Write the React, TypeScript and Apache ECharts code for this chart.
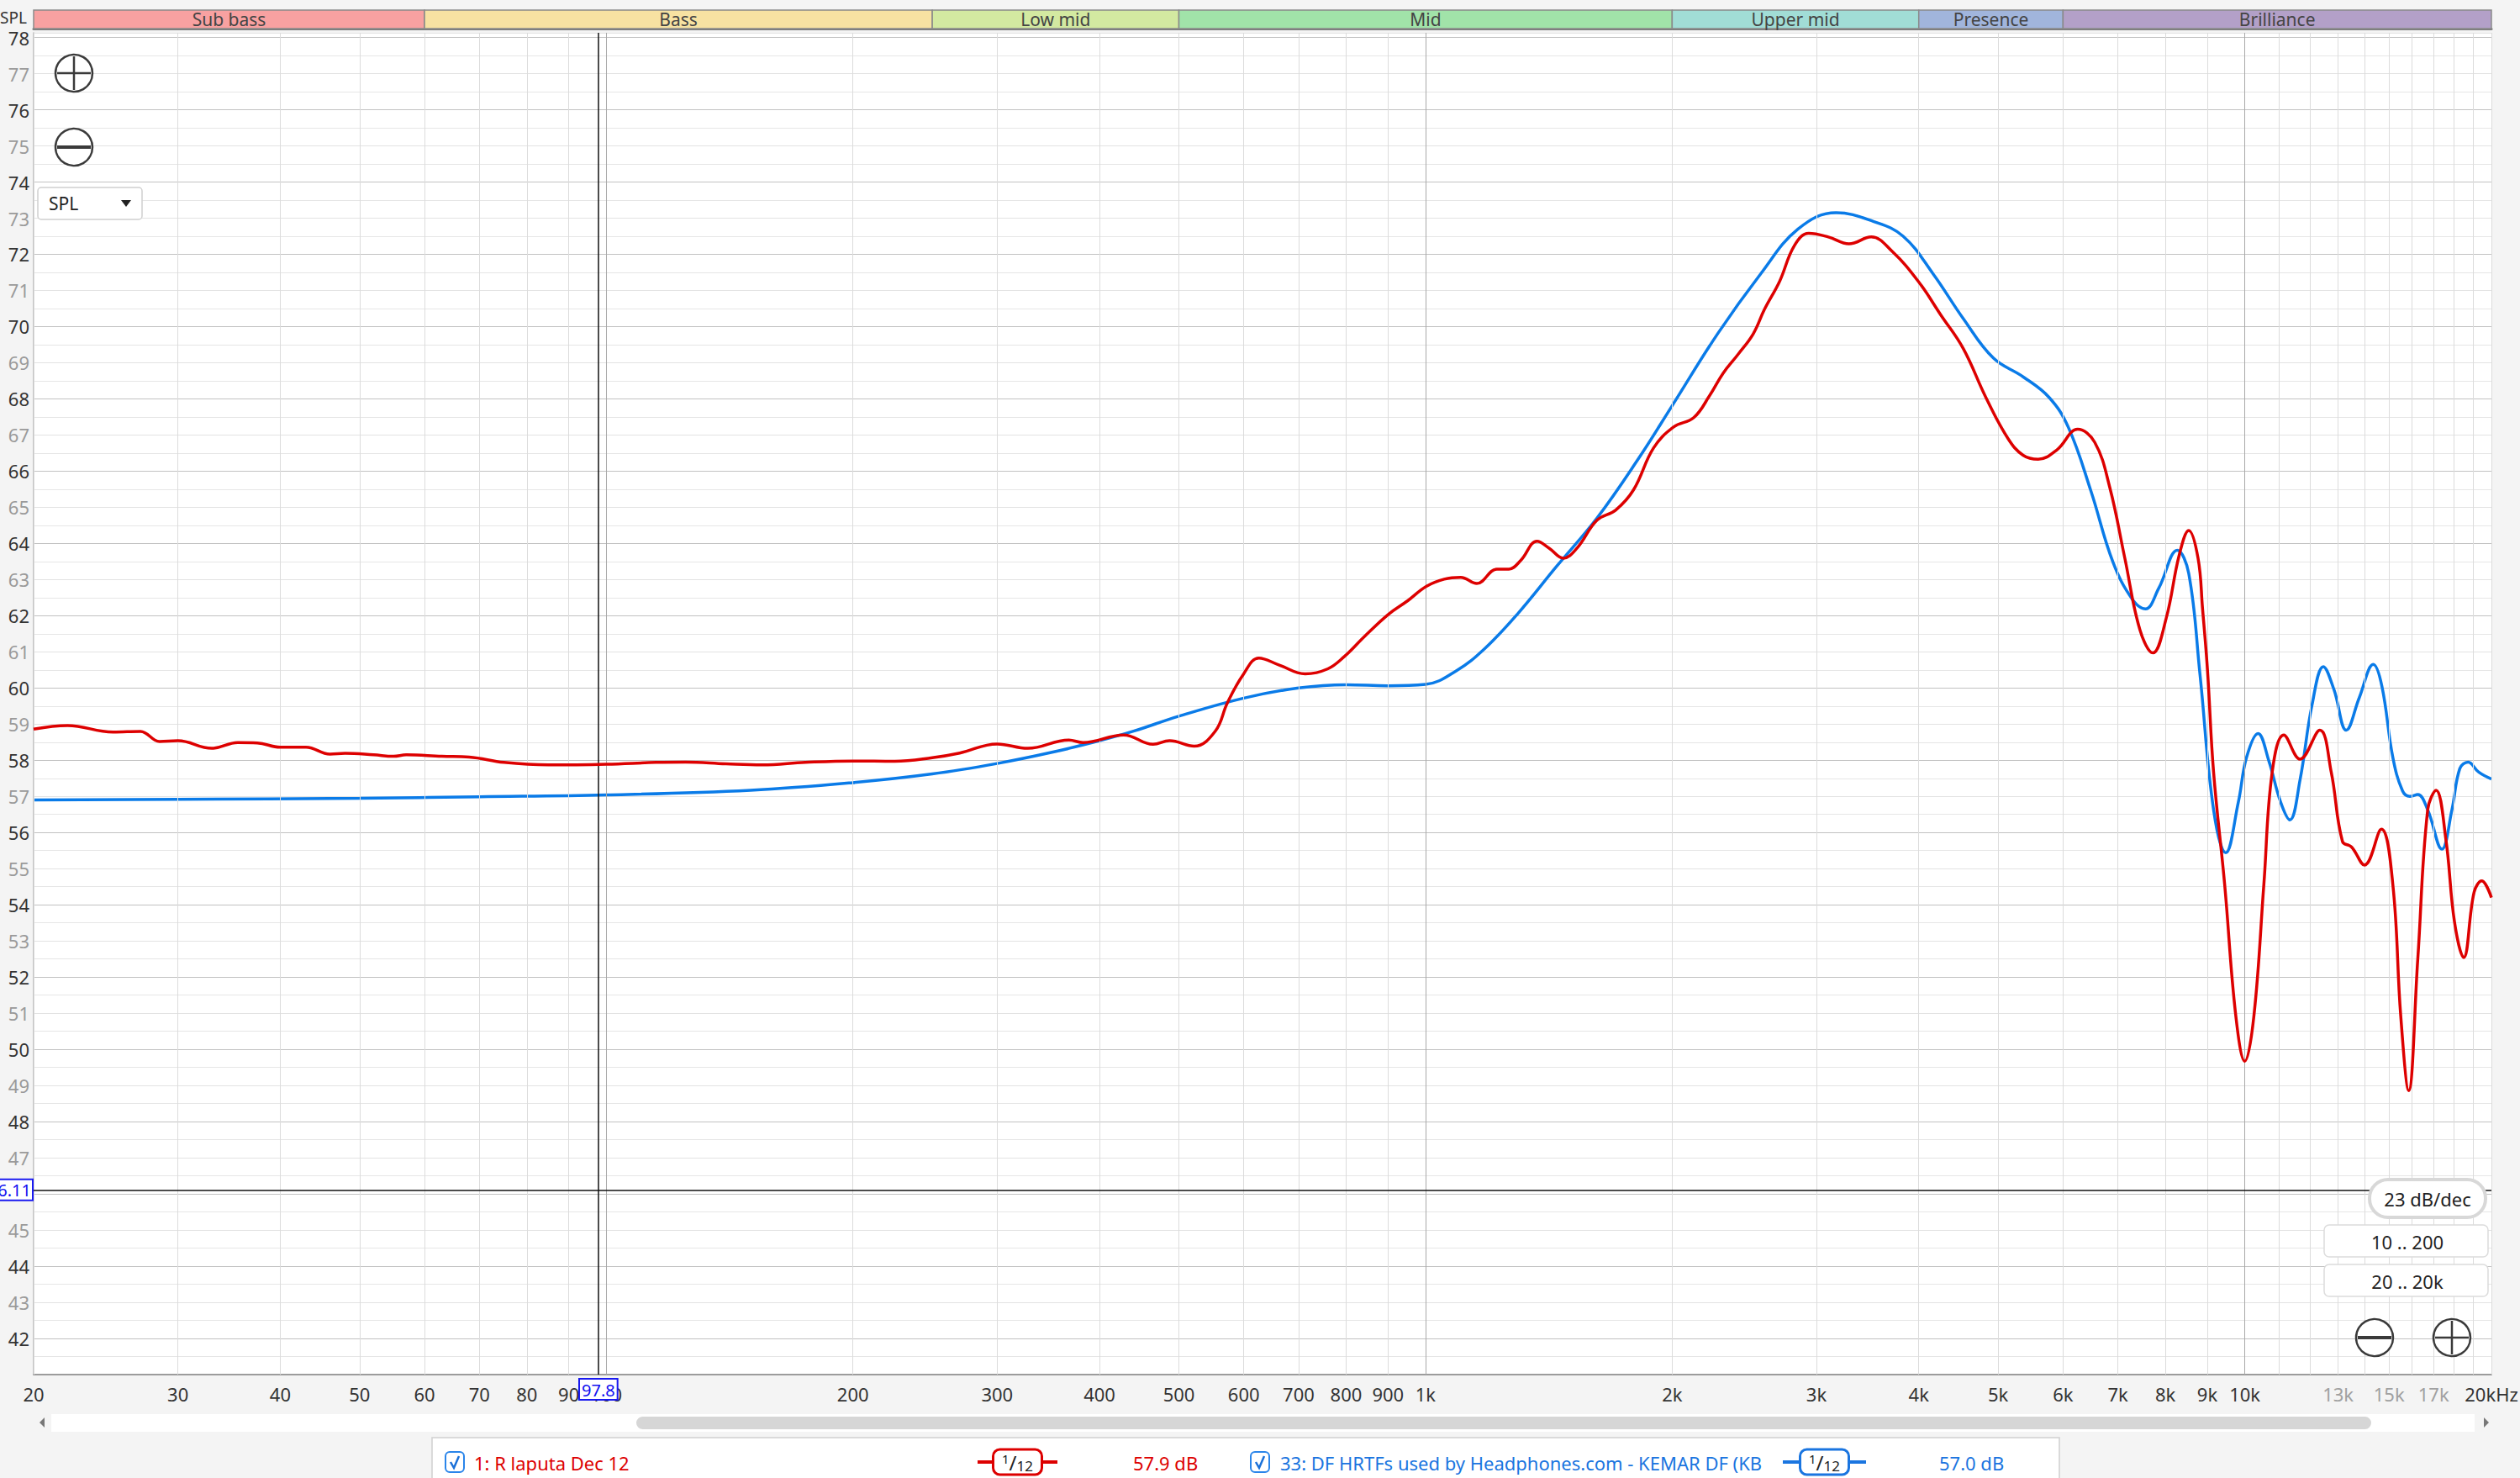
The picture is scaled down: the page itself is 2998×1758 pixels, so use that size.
import React, { useEffect, useRef } from "react";
import * as echarts from "echarts";

// ---------------- DATA ----------------
const redCurve: [number, number][] = [
  [20, 58.86], [22, 58.96], [25, 58.78], [27, 58.8], [28.5, 58.52], [30, 58.54], [33, 58.33], [35.5, 58.49],
  [37.5, 58.48], [40, 58.36], [43, 58.36], [46, 58.17], [48, 58.19], [52, 58.15], [55, 58.11], [57, 58.15],
  [63, 58.11], [68, 58.09], [75, 57.94], [85, 57.87], [100, 57.89], [115, 57.94], [125, 57.95], [140, 57.9],
  [155, 57.87], [175, 57.94], [200, 57.98], [225, 57.97], [250, 58.07], [270, 58.2], [300, 58.45], [327, 58.33],
  [367, 58.56], [382, 58.49], [428, 58.7], [465, 58.44], [487, 58.54], [522, 58.39], [554, 58.81], [573, 59.59],
  [599, 60.37], [626, 60.83], [662, 60.64], [713, 60.39], [760, 60.53], [796, 60.87], [842, 61.42], [900, 62.03],
  [952, 62.42], [1002, 62.81], [1054, 63.01], [1104, 63.06], [1155, 62.89], [1222, 63.29], [1264, 63.29],
  [1307, 63.53], [1368, 64.06], [1415, 63.87], [1473, 63.59], [1531, 63.87], [1619, 64.64], [1706, 64.92],
  [1794, 65.48], [1898, 66.64], [2008, 67.22], [2125, 67.48], [2222, 68.09], [2308, 68.71], [2407, 69.23],
  [2512, 69.8], [2593, 70.48], [2705, 71.25], [2820, 72.24], [2936, 72.58], [3102, 72.48], [3287, 72.29],
  [3500, 72.48], [3712, 72.08], [3995, 71.25], [4256, 70.32], [4533, 69.39], [4830, 68.04], [5141, 66.9],
  [5363, 66.44], [5595, 66.33], [5898, 66.59], [6252, 67.16], [6558, 66.8], [6842, 65.55], [7138, 63.59],
  [7445, 61.62], [7724, 60.97], [8018, 61.93], [8319, 63.69], [8542, 64.36], [8769, 63.59], [8880, 62.2],
  [9004, 60.5], [9160, 57.67], [9450, 54.56], [9750, 50.93], [10000, 49.67], [10260, 50.93], [10550, 54.56],
  [10800, 57.67], [11160, 58.7], [11680, 58.03], [12350, 58.83], [12750, 57.67], [13160, 55.75], [13500, 55.6],
  [14000, 55.1], [14680, 56.09], [15160, 54.56], [15500, 50.93], [15850, 48.86], [16260, 52.49], [16720, 56.63],
  [17120, 57.17], [17600, 55.8], [18030, 53.52], [18500, 52.54], [19050, 54.35], [19460, 54.66], [20000, 54.2],
];

const blueCurve: [number, number][] = [
  [20, 56.9], [30, 56.92], [50, 56.95], [70, 56.99], [100, 57.04], [150, 57.17], [200, 57.38], [250, 57.62],
  [300, 57.91], [350, 58.22], [400, 58.54], [441, 58.81], [500, 59.22], [600, 59.72], [700, 60.0], [800, 60.09],
  [900, 60.06], [1000, 60.1], [1091, 60.48], [1181, 61.09], [1293, 62.03], [1446, 63.37], [1619, 64.7],
  [1815, 66.31], [2000, 67.81], [2274, 69.81], [2565, 71.46], [2849, 72.7], [3170, 73.15], [3520, 72.91],
  [3828, 72.5], [4164, 71.46], [4533, 70.22], [4932, 69.13], [5363, 68.61], [5770, 68.04], [6091, 67.21],
  [6489, 65.45], [6904, 63.48], [7292, 62.45], [7564, 62.19], [7852, 62.76], [8273, 63.81], [8542, 63.17],
  [8817, 60.37], [9160, 56.63], [9480, 55.44], [9820, 56.84], [10050, 58.08], [10380, 58.74], [10700, 57.98],
  [11060, 56.84], [11350, 56.35], [11680, 57.46], [12080, 59.53], [12470, 60.59], [12850, 59.95], [13300, 58.83],
  [13800, 59.74], [14350, 60.65], [14700, 60.05], [15160, 58.08], [15580, 57.15], [15900, 57.0], [16260, 57.05],
  [16720, 56.63], [17400, 55.54], [17900, 56.63], [18300, 57.77], [18730, 57.95], [19300, 57.67], [20000, 57.48],
];

const xGridFreqs = [
  20, 30, 40, 50, 60, 70, 80, 90, 100, 200, 300, 400, 500, 600, 700, 800, 900, 1000, 2000, 3000, 4000, 5000,
  6000, 7000, 8000, 9000, 10000, 11000, 12000, 13000, 14000, 15000, 16000, 17000, 18000, 19000, 20000,
];
const decadeFreqs = [100, 1000, 10000];
const xTickLabels: [number, string][] = [
  [20, "20"], [30, "30"], [40, "40"], [50, "50"], [60, "60"], [70, "70"], [80, "80"], [90, "90"], [100, "100"],
  [200, "200"], [300, "300"], [400, "400"], [500, "500"], [600, "600"], [700, "700"], [800, "800"], [900, "900"],
  [1000, "1k"], [2000, "2k"], [3000, "3k"], [4000, "4k"], [5000, "5k"], [6000, "6k"], [7000, "7k"], [8000, "8k"],
  [9000, "9k"], [10000, "10k"], [13000, "13k"], [15000, "15k"], [17000, "17k"], [20000, "20kHz"],
];
const faintTickLabels = ["13k", "15k", "17k"];

const yMin = 41;
const yMax = 78.13;

const bandNames = ["Sub bass", "Bass", "Low mid", "Mid", "Upper mid", "Presence", "Brilliance"];
const bandEdges = [20, 60, 250, 500, 2000, 4000, 6000, 20000];

const cursorFreq = 97.8;
const cursorDb = 46.11;

const legendName1 = "1: R laputa Dec 12";
const legendName2 = "33: DF HRTFs used by Headphones.com - KEMAR DF (KB";
const legendLevel1 = "57.9 dB";
const legendLevel2 = "57.0 dB";
const slopeLabel = "23 dB/dec";
const rangeLabels = ["10 .. 200", "20 .. 20k"];

// ---------------- STYLE ----------------
const FONT = "'Noto Sans', 'DejaVu Sans', sans-serif";
const BAND_COLORS = ["#f8a1a1", "#f7e2a2", "#d3e9a1", "#a1e3a9", "#a1ddd6", "#a1b5dc", "#b3a0c8"];
const RED = "#dd0000";
const BLUE = "#0a7be8";
const INK = "#3a3a3a";

function txt(x: number, y: number, text: string, fill: string, size = 22, align = "left") {
  return {
    type: "text",
    z: 100,
    x,
    y,
    style: {
      text,
      fill,
      font: `${size}px ${FONT}`,
      textAlign: align,
      textVerticalAlign: "middle",
      align,
      verticalAlign: "middle",
    },
  };
}
function circleBtn(cx: number, cy: number, plus: boolean) {
  const r = 22;
  const els: any[] = [
    { type: "circle", z: 100, shape: { cx, cy, r }, style: { fill: "#fff", stroke: INK, lineWidth: 2.5 } },
    { type: "line", z: 101, shape: { x1: cx - r + 2, y1: cy, x2: cx + r - 2, y2: cy }, style: { stroke: INK, lineWidth: plus ? 2.5 : 4 } },
  ];
  if (plus) {
    els.push({ type: "line", z: 101, shape: { x1: cx, y1: cy - r + 2, x2: cx, y2: cy + r - 2 }, style: { stroke: INK, lineWidth: 2.5 } });
  }
  return els;
}
function checkbox(x: number, y: number) {
  return [
    { type: "rect", z: 100, shape: { x, y, width: 22, height: 24, r: 5 }, style: { fill: "#fff", stroke: "#2a85ea", lineWidth: 2 } },
    { type: "polyline", z: 101, shape: { points: [[x + 6, y + 12], [x + 10, y + 19], [x + 16, y + 5]] }, style: { stroke: "#1a70d8", lineWidth: 2.5, fill: null } },
  ];
}
function badge(x1: number, x2: number, y: number, color: string) {
  const bx = (x1 + x2) / 2 - 29;
  return [
    { type: "line", z: 100, shape: { x1, y1: y, x2, y2: y }, style: { stroke: color, lineWidth: 4 } },
    { type: "rect", z: 101, shape: { x: bx, y: y - 15, width: 58, height: 30, r: 8 }, style: { fill: "#fff", stroke: color, lineWidth: 3 } },
    {
      type: "text",
      z: 102,
      x: bx + 29,
      y,
      style: {
        text: "{s|1}{m|/}{u|12}",
        rich: {
          s: { fontSize: 15, fontFamily: FONT, fill: "#222", padding: [0, 0, 9, 0] },
          m: { fontSize: 24, fontFamily: FONT, fill: "#222" },
          u: { fontSize: 17, fontFamily: FONT, fill: "#222", padding: [8, 0, 0, 0] },
        },
        textAlign: "center",
        textVerticalAlign: "middle",
        align: "center",
        verticalAlign: "middle",
      },
    },
  ];
}

export default function App() {
  const ref = useRef<HTMLDivElement>(null);

  useEffect(() => {
    if (!ref.current) return;
    const chart = echarts.init(ref.current, undefined, { renderer: "svg" });

    const labelFor = (f: number) => {
      const hit = xTickLabels.find((t) => t[0] === f);
      return hit ? hit[1] : null;
    };

    const gridLineData = xGridFreqs.map((f) => {
      const lab = labelFor(f);
      return {
        xAxis: f,
        lineStyle: { color: decadeFreqs.includes(f) ? "#a9a9a9" : "#dcdcdc", width: 1, type: "solid" },
        label: lab
          ? { show: true, formatter: lab, color: faintTickLabels.includes(lab) ? "#a0a0a0" : "#333" }
          : { show: false },
      };
    });

    const isInt = (v: number) => Math.abs(v - Math.round(v)) < 1e-6;
    const hiddenYLabel = Math.round(cursorDb);

    const cursorLabel = {
      show: true,
      position: "start",
      color: "#1010f0",
      fontSize: 20,
      fontFamily: FONT,
      backgroundColor: "#fff",
      borderColor: "#1a1af0",
      borderWidth: 2,
    };

    const option: any = {
      animation: false,
      backgroundColor: "#f4f4f4",
      textStyle: { fontFamily: FONT },
      grid: [
        { left: 40, top: 39, width: 2924, height: 1596, show: true, backgroundColor: "#ffffff", borderWidth: 0 },
        { left: 40, top: 12, width: 2924, height: 22, show: false },
      ],
      xAxis: [
        {
          type: "log",
          logBase: 10,
          min: 20,
          max: 20000,
          gridIndex: 0,
          axisLabel: { show: false },
          axisTick: { show: false },
          splitLine: { show: false },
          axisLine: { show: true, onZero: false, lineStyle: { color: "#9c9c9c", width: 2 } },
        },
        {
          type: "log",
          logBase: 10,
          min: 20,
          max: 20000,
          gridIndex: 1,
          axisLabel: { show: false },
          axisTick: { show: false },
          splitLine: { show: false },
          axisLine: { show: true, onZero: false, lineStyle: { color: "#7a7a7a", width: 3 } },
        },
      ],
      yAxis: [
        {
          type: "value",
          min: yMin,
          max: yMax,
          interval: 1,
          gridIndex: 0,
          axisLine: { show: true, lineStyle: { color: "#b4b4b4", width: 1.5 } },
          axisTick: { show: false },
          axisLabel: {
            margin: 5,
            formatter: (v: number) => {
              if (!isInt(v)) return "";
              const n = Math.round(v);
              if (n === yMin || n === hiddenYLabel) return "";
              return n % 2 === 0 ? `{d|${n}}` : `{l|${n}}`;
            },
            rich: {
              d: { color: "#333", fontSize: 22, fontFamily: FONT },
              l: { color: "#9a9a9a", fontSize: 22, fontFamily: FONT },
            },
          },
          splitLine: { show: true, lineStyle: { color: ["#e3e3e3", "#c2c2c2"], width: 1 } },
          minorTick: { show: false, splitNumber: 2 },
          minorSplitLine: { show: true, lineStyle: { color: "#e6e6e6", width: 1 } },
        },
        { type: "value", min: 0, max: 1, gridIndex: 1, show: false },
      ],
      series: [
        {
          name: "grid",
          type: "line",
          xAxisIndex: 0,
          yAxisIndex: 0,
          data: [[20, yMin]],
          showSymbol: false,
          silent: true,
          z: 1,
          lineStyle: { opacity: 0 },
          markLine: {
            silent: true,
            symbol: ["none", "none"],
            animation: false,
            label: { position: "start", distance: 12, fontSize: 22, fontFamily: FONT, color: "#333" },
            emphasis: { disabled: true },
            data: gridLineData,
          },
        },
        {
          name: "bands",
          type: "line",
          xAxisIndex: 1,
          yAxisIndex: 1,
          data: [[20, 0]],
          showSymbol: false,
          silent: true,
          lineStyle: { opacity: 0 },
          markArea: {
            silent: true,
            label: { show: true, position: "inside", color: "#444", fontSize: 21, fontFamily: FONT },
            itemStyle: { borderColor: "#8a8a8a", borderWidth: 1.5 },
            data: bandNames.map((n, i) => [
              { name: n, xAxis: bandEdges[i], itemStyle: { color: BAND_COLORS[i], borderColor: "#8a8a8a", borderWidth: 1.5 } },
              { xAxis: bandEdges[i + 1] },
            ]),
          },
        },
        {
          name: "DF target",
          type: "line",
          xAxisIndex: 0,
          yAxisIndex: 0,
          data: blueCurve,
          showSymbol: false,
          smooth: 0.4,
          z: 4,
          lineStyle: { color: BLUE, width: 3.5 },
        },
        {
          name: "R laputa",
          type: "line",
          xAxisIndex: 0,
          yAxisIndex: 0,
          data: redCurve,
          showSymbol: false,
          smooth: 0.4,
          z: 5,
          lineStyle: { color: RED, width: 3.5 },
        },
        {
          name: "cursor",
          type: "line",
          xAxisIndex: 0,
          yAxisIndex: 0,
          data: [[20, yMin]],
          showSymbol: false,
          silent: true,
          z: 8,
          lineStyle: { opacity: 0 },
          markLine: {
            silent: true,
            symbol: ["none", "none"],
            animation: false,
            lineStyle: { color: "#111", width: 1.5, type: "solid" },
            emphasis: { disabled: true },
            data: [
              {
                xAxis: cursorFreq,
                label: { ...cursorLabel, distance: 6, formatter: String(cursorFreq), padding: [2, 2, 1, 2] },
              },
              {
                yAxis: cursorDb,
                label: { ...cursorLabel, distance: 2, formatter: String(cursorDb), padding: [2, 1, 1, 1] },
              },
            ],
          },
        },
      ],
      graphic: [
        txt(0, 21, "SPL", "#333", 19),
        ...circleBtn(88, 87, true),
        ...circleBtn(88, 175, false),
        { type: "rect", z: 100, shape: { x: 45, y: 223, width: 124, height: 38, r: 4 }, style: { fill: "#fff", stroke: "#d0d0d0", lineWidth: 1.5 } },
        txt(58, 242, "SPL", "#222", 21),
        { type: "polygon", z: 101, shape: { points: [[144, 238], [156, 238], [150, 246]] }, style: { fill: "#222" } },
        // right controls
        { type: "rect", z: 100, shape: { x: 2819, y: 1403, width: 138, height: 45, r: 22 }, style: { fill: "#fff", stroke: "#d8d8d8", lineWidth: 4 } },
        txt(2888, 1426, slopeLabel, "#222", 22, "center"),
        { type: "rect", z: 100, shape: { x: 2765, y: 1457, width: 195, height: 38, r: 6 }, style: { fill: "#fff", stroke: "#dcdcdc", lineWidth: 1.5 } },
        txt(2864, 1477, rangeLabels[0], "#222", 22, "center"),
        { type: "rect", z: 100, shape: { x: 2765, y: 1504, width: 195, height: 38, r: 6 }, style: { fill: "#fff", stroke: "#dcdcdc", lineWidth: 1.5 } },
        txt(2864, 1524, rangeLabels[1], "#222", 22, "center"),
        ...circleBtn(2825, 1591, false),
        ...circleBtn(2917, 1591, true),
        // scrollbar
        { type: "rect", z: 100, shape: { x: 61, y: 1682, width: 2883, height: 21 }, style: { fill: "#fff" } },
        { type: "rect", z: 101, shape: { x: 757, y: 1685, width: 2064, height: 15, r: 7.5 }, style: { fill: "#d6d6d6" } },
        { type: "polygon", z: 101, shape: { points: [[47, 1692], [53, 1686], [53, 1698]] }, style: { fill: "#777" } },
        { type: "polygon", z: 101, shape: { points: [[2961, 1692], [2955, 1686], [2955, 1698]] }, style: { fill: "#777" } },
        // legend
        { type: "rect", z: 100, shape: { x: 514, y: 1710, width: 1936, height: 60 }, style: { fill: "#fff", stroke: "#d0d0d0", lineWidth: 1.5 } },
        ...checkbox(530, 1727),
        txt(564, 1740, legendName1, RED, 22),
        ...badge(1163, 1258, 1739, RED),
        txt(1348, 1740, legendLevel1, RED, 22),
        ...checkbox(1488, 1727),
        txt(1523, 1740, legendName2, "#1a75e0", 22),
        ...badge(2121, 2220, 1739, "#1a75e0"),
        txt(2307, 1740, legendLevel2, "#1a75e0", 22),
      ],
    };

    chart.setOption(option);
    return () => chart.dispose();
  }, []);

  return <div ref={ref} style={{ position: "fixed", left: 0, top: 0, width: 2998, height: 1758 }} />;
}
